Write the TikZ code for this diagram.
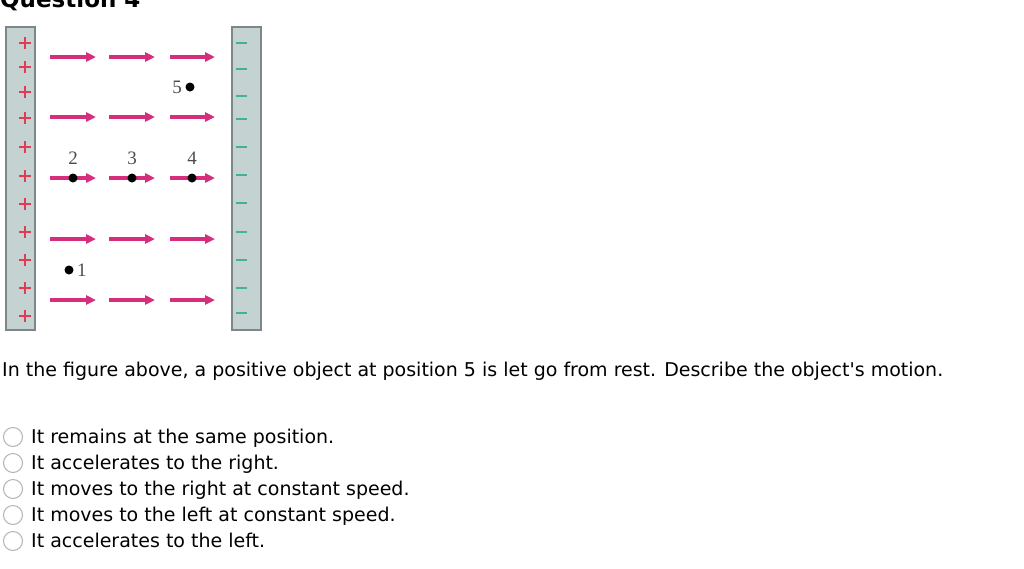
\documentclass[tikz,border=0pt]{standalone}
\usepackage{fontspec}
\setmainfont{DejaVu Sans}
\newfontfamily\numfont{Liberation Serif}
\usetikzlibrary{arrows.meta}

\definecolor{platefill}{RGB}{196,210,210}
\definecolor{plateedge}{RGB}{125,135,135}
\definecolor{plusred}{RGB}{225,60,85}
\definecolor{minusteal}{RGB}{70,175,155}
\definecolor{fieldpink}{RGB}{215,45,125}

\begin{document}
\begin{tikzpicture}[x=1pt, y=-1pt,
    plate/.style={draw=plateedge, fill=platefill, line width=2pt},
    fieldarrow/.style={-{Triangle[length=10pt, width=9pt]}, line width=3.5pt, fieldpink},
    charge/.style={circle, fill=black, inner sep=0pt, minimum size=9pt},
    numlabel/.style={font=\numfont\fontsize{19}{19}\selectfont, text=black!70, inner sep=0pt},
    bodytext/.style={font=\fontsize{19}{22}\selectfont, anchor=base west, inner sep=0pt},
    radio/.style={circle, draw=black!30, fill=white, line width=1pt, minimum size=19pt, inner sep=0pt}
]
    \useasboundingbox (0,0) rectangle (1024,568);
    \clip (0,0) rectangle (1024,568);

    % Title, cut off at the top
    \node[font=\fontsize{23}{26}\selectfont\bfseries, anchor=base west, inner sep=0pt] (title) at (0,7) {Question 4};

    % Plates
    \draw[plate] (6,27) rectangle (35,330);
    \draw[plate] (232,27) rectangle (261,330);
    \foreach \y in {43,67,92,118,147,176,204,232,260,288,316} {
        \draw[plusred, line width=2pt] (19,\y) -- (31,\y) (25,\y-6) -- (25,\y+6);
    }
    \foreach \y in {43,69,96,119,147,175,203,232,260,288,313} {
        \draw[minusteal, line width=2pt] (236,\y) -- (247,\y);
    }

    % Field arrows
    \foreach \y in {57,117,178,239,300} {
        \foreach \xa/\xb in {50/96, 109/155, 170/215} {
            \draw[fieldarrow] (\xa,\y) -- (\xb,\y);
        }
    }

    % Positions
    \node[charge] (p1) at (69,270) {};
    \node[charge] (p2) at (73,178) {};
    \node[charge] (p3) at (132,178) {};
    \node[charge] (p4) at (192,178) {};
    \node[charge] (p5) at (190,87) {};
    \node[numlabel, right=8pt] (l1) at (p1) {1};
    \node[numlabel] (l2) at (73,158) {2};
    \node[numlabel] (l3) at (132,158) {3};
    \node[numlabel] (l4) at (192,158) {4};
    \node[numlabel, left=8pt] (l5) at (p5) {5};

    % Question and answers
    \node[bodytext] (question) at (2,376) {In the figure above, a positive object at position 5 is let go from rest. Describe the object\textquotesingle s motion.};
    \foreach \txt [count=\i] in {It remains at the same position., It accelerates to the right., It moves to the right at constant speed., It moves to the left at constant speed., It accelerates to the left.} {
        \node[radio] (r\i) at (13,411+26*\i) {};
        \node[bodytext] (opt\i) at (31,417+26*\i) {\txt};
    }
\end{tikzpicture}
\end{document}
